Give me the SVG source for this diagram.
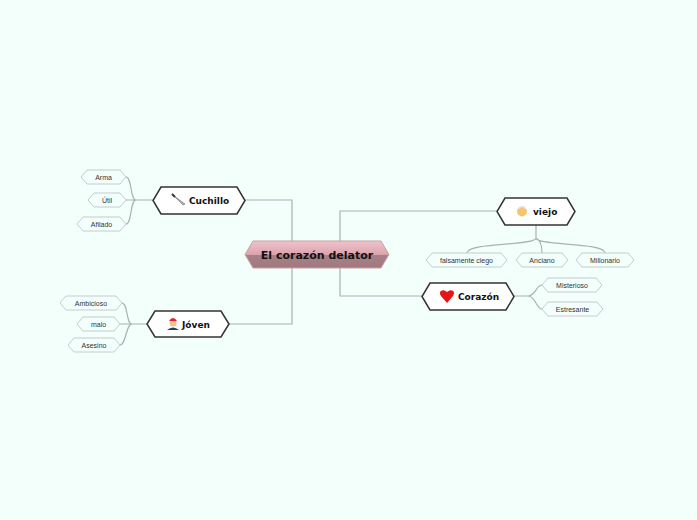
<svg xmlns="http://www.w3.org/2000/svg" width="697" height="520" viewBox="0 0 697 520">
<defs>
<style>
.conn{fill:none;stroke:#a9b3b0;stroke-width:1.2}
.leaf{fill:#f3fffc;stroke:#c5cccb;stroke-width:1}
.lt{font-family:"Liberation Sans",Arial,sans-serif;font-size:7px;fill:#333;text-anchor:middle}
.main{fill:#fff;stroke:#333;stroke-width:1.5}
.mt{font-family:"DejaVu Sans",sans-serif;font-size:9px;font-weight:bold;fill:#111}
</style>
<linearGradient id="cg" x1="0" y1="0" x2="0" y2="1">
<stop offset="0" stop-color="#f0c4cc"/><stop offset="0.5" stop-color="#dba3ae"/><stop offset="0.5" stop-color="#a97f86"/><stop offset="1" stop-color="#a07a80"/>
</linearGradient>
</defs>
<rect width="697" height="520" fill="#f2fffb"/>
<g id="connectors">
<path class="conn" d="M245,200 H292 V254 M229,324 H292 V254"/>
<path class="conn" d="M497,211 H340 V254 M422,296 H340 V254"/>
<path class="conn" d="M153,200 H136 M136,200 C130,200 132,177 126,177 M136,200 H126 M136,200 C130,200 132,224 126,224"/>
<path class="conn" d="M147,324 H132 M132,324 C126,324 128,303 122,303 M132,324 H120 M132,324 C126,324 126,345 120,345"/>
<path class="conn" d="M536,225 V238 M536,238 C536,246 467,242 467,253 M536,238 C540,240 542,244 542,253 M536,238 C536,246 605,242 605,253"/>
<path class="conn" d="M514,296 H528 M528,296 C536,296 536,285 542,285 M528,296 C536,296 536,309 542,309"/>
</g>
<g id="center">
<path d="M253,241 H381 L389,254.5 L381,268 H253 L245,254.5 Z" fill="url(#cg)" stroke="#c9a0a8" stroke-width="1"/>
<text x="317" y="258.5" text-anchor="middle" font-family="DejaVu Sans,sans-serif" font-size="11" font-weight="bold" fill="#111">El corazón delator</text>
</g>
<g id="cuchillo">
<path class="main" d="M161,187 H237 L245,200.5 L237,214 H161 L153,200.5 Z"/>
<path d="M174,196 L183,205 L185,204 Z" fill="#bbb" stroke="#666" stroke-width="0.6"/>
<path d="M172,194 L175,197" stroke="#333" stroke-width="2"/>
<text class="mt" x="189" y="204">Cuchillo</text>
</g>
<g id="joven">
<path class="main" d="M155,311 H221 L229,324 L221,337 H155 L147,324 Z"/>
<circle cx="173" cy="323" r="3.5" fill="#f5c28a"/>
<path d="M169,321 Q173,315 177,321 Z" fill="#d23"/>
<path d="M167,330 Q173,325 179,330 Z" fill="#2b3d5c"/>
<text class="mt" x="182" y="327.5">Jóven</text>
</g>
<g id="viejo">
<path class="main" d="M505,198 H567 L575,211.5 L567,225 H505 L497,211.5 Z"/>
<circle cx="522" cy="211.5" r="5" fill="#f7c56a"/>
<path d="M518,209 Q522,205 526,209" stroke="#ddd" stroke-width="1.2" fill="none"/>
<text class="mt" x="533" y="215">viejo</text>
</g>
<g id="corazon">
<path class="main" d="M430,283 H506 L514,296.5 L506,310 H430 L422,296.5 Z"/>
<path d="M447,303 L441,296 C438,292 442,288 447,292 C452,288 456,292 453,296 Z" fill="#e81416"/>
<text class="mt" x="458" y="300">Corazón</text>
</g>
<g id="arma"><path class="leaf" d="M87,170 H120 L126,177 L120,184 H87 L81,177 Z"/><text class="lt" x="103.5" y="179.5">Arma</text></g>
<g id="util"><path class="leaf" d="M94,193 H120 L126,200 L120,207 H94 L88,200 Z"/><text class="lt" x="107" y="202.5">Útil</text></g>
<g id="afilado"><path class="leaf" d="M83,217 H120 L126,224 L120,231 H83 L77,224 Z"/><text class="lt" x="101.5" y="226.5">Afilado</text></g>
<g id="ambicioso"><path class="leaf" d="M66,296 H116 L122,303 L116,310 H66 L60,303 Z"/><text class="lt" x="91" y="305.5">Ambicioso</text></g>
<g id="malo"><path class="leaf" d="M83,317 H114 L120,324 L114,331 H83 L77,324 Z"/><text class="lt" x="98.5" y="326.5">malo</text></g>
<g id="asesino"><path class="leaf" d="M74,338 H114 L120,345 L114,352 H74 L68,345 Z"/><text class="lt" x="94" y="347.5">Asesino</text></g>
<g id="falsamente"><path class="leaf" d="M432,253 H501 L507,260 L501,267 H432 L426,260 Z"/><text class="lt" x="466.5" y="262.5">falsamente ciego</text></g>
<g id="anciano"><path class="leaf" d="M522,253 H562 L568,260 L562,267 H522 L516,260 Z"/><text class="lt" x="542" y="262.5">Anciano</text></g>
<g id="millonario"><path class="leaf" d="M582,253 H628 L634,260 L628,267 H582 L576,260 Z"/><text class="lt" x="605" y="262.5">Millonario</text></g>
<g id="misterioso"><path class="leaf" d="M548,278 H596 L602,285 L596,292 H548 L542,285 Z"/><text class="lt" x="572" y="287.5">Misterioso</text></g>
<g id="estresante"><path class="leaf" d="M548,302 H597 L603,309 L597,316 H548 L542,309 Z"/><text class="lt" x="572.5" y="311.5">Estresante</text></g>
</svg>
